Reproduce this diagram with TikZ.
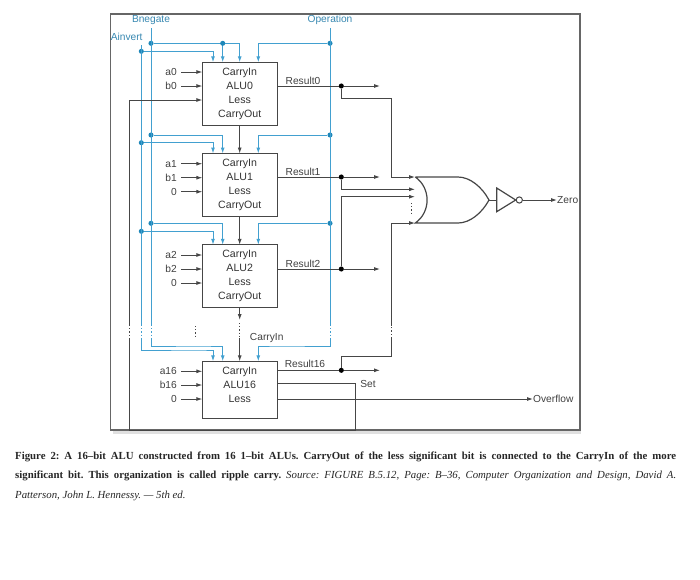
\documentclass[tikz,border=0pt]{standalone}
\usepackage{fontspec}
\setmainfont{Liberation Serif}
\setsansfont{Liberation Sans}
\usetikzlibrary{calc,arrows.meta}
\definecolor{ctl}{RGB}{66,160,208}
\definecolor{ctldark}{RGB}{30,135,185}
\definecolor{wirec}{RGB}{70,70,70}
\tikzset{
  wire/.style={wirec,line width=.9pt,>={Latex[length=6pt,width=4pt]}},
  ctlwire/.style={ctl,line width=1pt,>={Latex[length=6pt,width=4pt]}},
  gap/.style={dash pattern=on 1.2pt off 2pt},
  alu/.style={draw=wirec,line width=.9pt,outer sep=0pt,inner sep=0pt,minimum width=74.7pt,minimum height=63pt,align=center,font=\sffamily\fontsize{10.6}{14}\selectfont,text=black!80},
  sig/.style={font=\sffamily\fontsize{10.2}{12}\selectfont,text=black!75,inner sep=0pt},
  ctltext/.style={font=\sffamily\fontsize{10.2}{12}\selectfont,text=ctl!85!black,inner sep=0pt},
  dot/.style={circle,fill=black,inner sep=1.8pt},
  ctldot/.style={circle,fill=ctldark,inner sep=1.8pt},
}
\begin{document}
\begin{tikzpicture}[x=1pt,y=-1pt]
  \useasboundingbox (0,0) rectangle (700,579);
  \draw[black!12,line width=2.5pt] (113,432.5) -- (581,432.5);
  \draw[black!60,line width=1.3pt] (110.7,14) rectangle (580,430);

  \node (alu0) at (239.7,93.8) [alu] {CarryIn\\ALU0\\Less\\CarryOut};
  \node (alu1) at (239.7,185) [alu] {CarryIn\\ALU1\\Less\\CarryOut};
  \node (alu2) at (239.7,276.3) [alu] {CarryIn\\ALU2\\Less\\CarryOut};
  \node (alu16) at (239.7,389.8) [alu,minimum height=57pt] {CarryIn\\ALU16\\Less\\[-4pt]~};

  % control lines
  \node (bnegate) at (151,20) [ctltext] {Bnegate};
  \node (ainvert) at (126.7,36.7) [ctltext] {Ainvert};
  \node (operation) at (330,20) [ctltext] {Operation};
  \coordinate (atop) at (141.3,45);
  \coordinate (optop) at (330,28);
  \coordinate (bntop) at (151,28);
  \foreach \n/\yb/\ya in {0/43.3/51.3,1/135/142.7,2/223.3/231.3}{
    \node (bd\n) at (151,\yb) [ctldot] {};
    \node (od\n) at (330,\yb) [ctldot] {};
    \node (ad\n) at (141.3,\ya) [ctldot] {};
    \draw[ctlwire,->] (bd\n) -| ($(alu\n.north)+(-17,0)$);
    \draw[ctlwire,->] (ad\n) -| ($(alu\n.north)+(-26.7,0)$);
    \draw[ctlwire,->] (od\n) -| ($(alu\n.north)+(18.6,0)$);
  }
  \node (bd) at (222.7,43.3) [ctldot] {};
  \draw[ctlwire,->] (bd) -| (alu0.north);
  \foreach \x in {141.3,151,330}{
    \draw[ctlwire,gap] (\x,325) -- (\x,338);
  }
  \draw[ctlwire] (bntop) -- (151,325);
  \draw[ctlwire] (atop) -- (141.3,325);
  \draw[ctlwire] (optop) -- (330,325);
  \draw[ctlwire,->] (151,338) |- (200,346) -| ($(alu16.north)+(-17,0)$);
  \draw[ctlwire,->] (141.3,338) |- (200,350) -| ($(alu16.north)+(-26.7,0)$);
  \draw[ctlwire,->] (330,338) |- (280,346) -| ($(alu16.north)+(18.6,0)$);

  % inputs
  \foreach \n/\l/\y in {a0/a0/72,b0/b0/86,a1/a1/163.7,b1/b1/177.7,z1/0/191.7,a2/a2/255,b2/b2/269,z2/0/283,a16/a16/371.3,b16/b16/385,z16/0/399}{
    \node (\n) at (177,\y) [sig,anchor=east] {\l};
  }
  \foreach \n/\m in {a0/alu0,b0/alu0,a1/alu1,b1/alu1,z1/alu1,a2/alu2,b2/alu2,z2/alu2,a16/alu16,b16/alu16,z16/alu16}{
    \draw[wire,->,shorten <=4pt] (\n) -- (\n -| \m.west);
  }

  % carry chain
  \draw[wire,->] (alu0) -- (alu1);
  \draw[wire,->] (alu1) -- (alu2);
  \draw[wire,->] (alu2.south) -- (239.7,320);
  \draw[wire,gap] (239.7,323) -- (239.7,338);
  \draw[wire,->] (239.7,338) -- (alu16.north);
  \node (carryin) at (266.7,338) [sig] {CarryIn};
  \draw[wire,gap] (195,326) -- (195,338);

  % results
  \foreach \n/\y/\lx/\ly in {0/86/303/80.5,1/177/303/171.5,2/269/303/263.5,16/370.3/305/364}{
    \node (d\n) at (341.3,\y) [dot] {};
    \coordinate (e\n) at (380,\y);
    \draw[wire] (alu\n.east |- d\n) -- (d\n);
    \draw[wire,->] (d\n) -- (e\n);
    \node (r\n) at (\lx,\ly) [sig] {Result\n};
  }

  % nor gate
  \coordinate (gt) at (415.3,177);
  \coordinate (gb) at (415.3,223);
  \coordinate (gout) at (489,200);
  \draw[wirec,line width=1.2pt] (gt) -- (458,177) .. controls (470,177) and (482,187) .. (gout)
    .. controls (482,213) and (470,223) .. (458,223) -- (gb)
    .. controls (431,212) and (431,188) .. (gt);
  \node (bubble) at (519.3,200) [circle,draw=wirec,line width=1pt,inner sep=2.2pt] {};
  \draw[wirec,line width=1.2pt] (496.7,188) -- (496.7,211.7) -- (bubble.west) -- cycle;
  \draw[wire] (gout) -- (496.7,200);
  \node (zero) at (557,200) [sig,anchor=west] {Zero};
  \draw[wire,->] (bubble) -- (zero);

  \coordinate (i1) at (415,177);
  \coordinate (i2) at (415,189.3);
  \coordinate (i3) at (415,196.7);
  \coordinate (i4) at (415,223);
  \draw[wire,->] (d0) |- (391.3,98.7) |- (i1);
  \draw[wire,->] (d1) |- (i2);
  \draw[wire,->] (d2) |- (i3);
  \draw[wire,->] (391.3,325) |- (i4);
  \draw[wire] (d16) |- (391.3,356.7) -- (391.3,338);
  \draw[wire,gap] (391.3,338) -- (391.3,325);
  \draw[wire,gap] (411,203) -- (411,213);

  % less, set, overflow
  \node (set) at (368,384) [sig] {Set};
  \node (overflow) at (533,399) [sig,anchor=west] {Overflow};
  \draw[wire,->] (129.3,325) |- (alu0.west |- 0,100);
  \draw[wire,gap] (129.3,325) -- (129.3,338);
  \draw[wire] (alu16.east |- 0,383.7) -| (355.7,430) -| (129.3,338);
  \draw[wire,->] (alu16.east |- overflow) -- (overflow);

  \node (caption) at (15,451.5) [anchor=north west,inner sep=0pt,text width=661pt,align=justify,font=\rmfamily\fontsize{10.8}{19.5}\selectfont,text=black!85] {\frenchspacing\textbf{Figure 2: A 16--bit ALU constructed from 16 1--bit ALUs. CarryOut of the less significant bit is connected to the CarryIn of the more}\linebreak\textbf{significant bit. This organization is called ripple carry.} \textit{Source: FIGURE B.5.12, Page: B--36, Computer Organization and Design, David A.}\linebreak\textit{Patterson, John L. Hennessy. --- 5th ed.}};
\end{tikzpicture}
\end{document}
